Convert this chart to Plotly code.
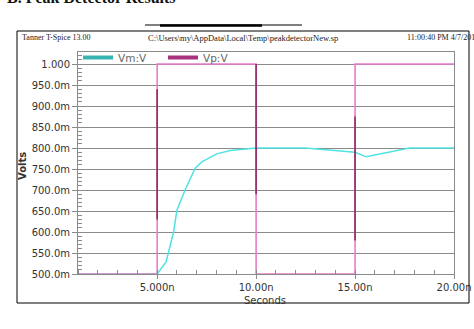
import plotly.graph_objects as go

# ---- data ----
vm_t = [1.0, 5.0, 5.45, 5.83, 6.0, 6.41, 6.92, 7.26, 8.01, 8.69, 9.6, 10.0, 12.5, 15.0, 15.56, 17.75, 20.0]
vm_v = [0.5, 0.5, 0.529, 0.60, 0.652, 0.70, 0.752, 0.767, 0.786, 0.794, 0.798, 0.80, 0.80, 0.79, 0.779, 0.80, 0.80]

vp_t = [1.0, 5.0, 5.0, 10.0, 10.0, 15.0, 15.0, 20.0]
vp_v = [0.5, 0.5, 1.0, 1.0, 0.5, 0.5, 1.0, 1.0]

# darker rendered portions of the Vp edges
vp_dark_t = [5.0, 5.0, None, 10.0, 10.0, None, 15.0, 15.0]
vp_dark_v = [0.94, 0.63, None, 1.0, 0.69, None, 0.58, 0.875]

y_ticks = [0.5, 0.55, 0.6, 0.65, 0.7, 0.75, 0.8, 0.85, 0.9, 0.95, 1.0]
y_labels = ["500.0m", "550.0m", "600.0m", "650.0m", "700.0m", "750.0m",
            "800.0m", "850.0m", "900.0m", "950.0m", "1.000"]
x_ticks = [5, 10, 15, 20]
x_labels = ["5.000n", "10.00n", "15.00n", "20.00n"]

W, H = 474, 329
L, R, T, B = 78, 454, 52, 274


def px(x):
    return (x - L) / (R - L)


def py(y):
    return (B - y) / (B - T)


fig = go.Figure()
fig.add_trace(go.Scatter(x=vm_t, y=vm_v, mode="lines", showlegend=False,
                         line=dict(color="#4FE3E3", width=1.5)))
fig.add_trace(go.Scatter(x=vp_t, y=vp_v, mode="lines", showlegend=False,
                         line=dict(color="#E77DC9", width=1.6)))
fig.add_trace(go.Scatter(x=vp_dark_t, y=vp_dark_v, mode="lines", showlegend=False,
                         line=dict(color="#8E2A63", width=1.6)))
# legend entries
fig.add_trace(go.Scatter(x=[None], y=[None], mode="lines", name="Vm:V",
                         line=dict(color="#38B4B4", width=4)))
fig.add_trace(go.Scatter(x=[None], y=[None], mode="lines", name="Vp:V",
                         line=dict(color="#A8327E", width=4)))

axis_font = dict(family="DejaVu Sans", size=10, color="#333333")

fig.update_xaxes(range=[1, 20], tickvals=x_ticks, ticktext=x_labels, automargin=False,
                 showgrid=False, zeroline=False, showline=True, mirror=True,
                 linecolor="#8a8a8a", linewidth=1,
                 ticks="outside", ticklen=4, tickcolor="#8a8a8a",
                 tickfont=axis_font,
                 minor=dict(dtick=1, ticks="inside", ticklen=4, tickcolor="#8a8a8a", showgrid=False))
fig.update_yaxes(range=[0.5, 0.5 + (B - T) / 420.0], tickvals=y_ticks, ticktext=y_labels,
                 automargin=False,
                 showgrid=True, gridcolor="#8a8a8a", gridwidth=1, zeroline=False,
                 showline=True, mirror=True, linecolor="#8a8a8a", linewidth=1,
                 ticks="outside", ticklen=5, tickcolor="#8a8a8a",
                 tickfont=axis_font,
                 minor=dict(dtick=0.01, ticks="inside", ticklen=4, tickcolor="#8a8a8a", showgrid=False))

annots = [
    dict(text="Volts", x=px(22), y=py(166), textangle=-90,
         font=dict(family="DejaVu Sans", size=10, color="#333333", weight="bold")),
    dict(text="Seconds", x=px(265), y=py(300),
         font=dict(family="DejaVu Sans", size=10, color="#333333")),
    dict(text="Tanner T-Spice 13.00", x=px(20), y=py(38), xanchor="left",
         font=dict(family="Liberation Serif", size=8, color="#222222")),
    dict(text="C:\\Users\\my\\AppData\\Local\\Temp\\peakdetectorNew.sp", x=px(243), y=py(38),
         font=dict(family="Liberation Serif", size=8.5, color="#222222")),
    dict(text="11:00:40 PM 4/7/2013", x=px(405), y=py(38), xanchor="left",
         font=dict(family="Liberation Serif", size=8, color="#222222")),
    dict(text="<b>B. Peak Detector Results</b>", x=px(5), y=py(-3), xanchor="left",
         font=dict(family="Liberation Serif", size=16, color="#111111")),
]
for a in annots:
    a.update(xref="paper", yref="paper", showarrow=False)
    a.setdefault("xanchor", "center")
    a.setdefault("yanchor", "middle")

shapes = [
    dict(type="rect", xref="paper", yref="paper", x0=px(17), x1=px(469), y0=py(303), y1=py(31),
         line=dict(color="#000000", width=1)),
    dict(type="line", xref="paper", yref="paper", x0=px(145), x1=px(302), y0=py(25), y1=py(25),
         line=dict(color="#000000", width=1.2)),
    dict(type="line", xref="paper", yref="paper", x0=px(160), x1=px(262), y0=py(25.5), y1=py(25.5),
         line=dict(color="#000000", width=2.5)),
]

fig.update_layout(
    width=W, height=H,
    margin=dict(l=L, r=W - R, t=T, b=H - B, pad=0),
    paper_bgcolor="white", plot_bgcolor="white",
    annotations=annots, shapes=shapes,
    legend=dict(orientation="h", x=0.0, y=py(43), xanchor="left", yanchor="top",
                bgcolor="rgba(0,0,0,0)", borderwidth=0,
                font=dict(family="DejaVu Sans", size=10.5, color="#666666"),
                entrywidth=40, entrywidthmode="pixels", itemwidth=30,
                tracegroupgap=0),
    showlegend=True,
)

fig.write_html("out.html")
